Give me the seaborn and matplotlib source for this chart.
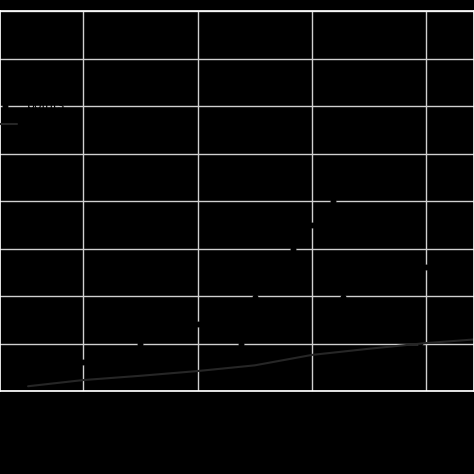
import matplotlib
matplotlib.use("Agg")
import matplotlib.pyplot as plt
import seaborn as sns
import pandas as pd

# scatter points (only the ones readable on the picture)
point_x = [10, 15, 20, 23.8, 25, 28.3, 30, 31.8, 32.7, 39.4, 40]
point_y = [6.1, 10.0, 14.1, 10.0, 19.8, 29.9, 34.9, 40.0, 19.8, 10.1, 26.1]

# trend line
trend_x = [5.2, 10, 15, 20, 25, 30, 35, 40, 45]
trend_y = [1.0, 2.3, 3.2, 4.2, 5.4, 7.6, 8.9, 10.1, 11.0]

sns.set_theme(style="darkgrid")
plt.rcParams["axes.facecolor"] = "black"
plt.rcParams["figure.facecolor"] = "black"
plt.rcParams["savefig.facecolor"] = "black"
plt.rcParams["grid.color"] = "#d0d0d0"
# text is black on the black background, as in the picture
plt.rcParams["text.color"] = "black"
plt.rcParams["axes.labelcolor"] = "black"
plt.rcParams["xtick.labelcolor"] = "black"
plt.rcParams["ytick.labelcolor"] = "black"

points = pd.DataFrame({"x": point_x, "y": point_y})
trend = pd.DataFrame({"x": trend_x, "y": trend_y})

fig = plt.figure(figsize=(4.74, 4.74), dpi=100)
ax = fig.add_axes([0, 83 / 474, 1, 380 / 474])

sns.scatterplot(data=points, x="x", y="y", color="black", s=18, linewidth=0, ax=ax, label="points")
sns.lineplot(data=trend, x="x", y="y", color="#262626", linewidth=1.5, ax=ax, label="trend")

ax.set_xlim(2.75, 44.15)
ax.set_ylim(0, 80)
ax.set_xticks([10, 20, 30, 40])
ax.set_yticks(range(0, 81, 10))
ax.set_yticklabels([])
ax.set_xlabel("x")
ax.set_ylabel("")

ax.legend(loc="upper left", bbox_to_anchor=(-0.04, 0.798), frameon=False, fontsize=9)

fig.savefig("out.png", dpi=100)
